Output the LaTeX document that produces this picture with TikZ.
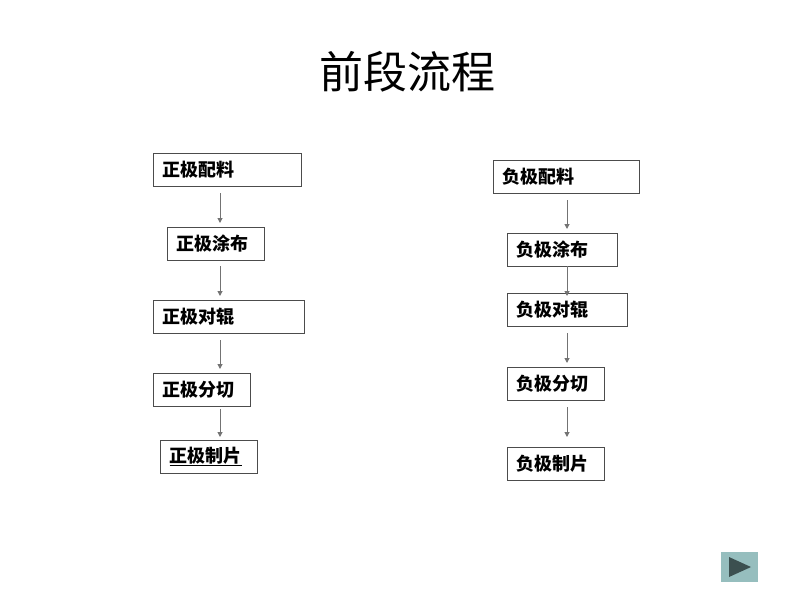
\documentclass[tikz,border=0pt]{standalone}
\usepackage{fontspec}
\setmainfont{Noto Sans CJK SC}
\usetikzlibrary{arrows.meta}
\begin{document}
\begin{tikzpicture}[x=1pt,y=-1pt,
  bx/.style={draw=black!70,line width=0.8pt,inner sep=0pt,anchor=north west},
  lb/.style={anchor=west,font=\fontsize{18}{20}\selectfont\bfseries},
  ar/.style={draw=black!55,line width=1pt,-{Triangle[length=5pt,width=5pt]}}]
\useasboundingbox (0,0) rectangle (800,600);
\node[font=\fontsize{44}{50}\selectfont] (t) at (407,72) {前段流程};
\newcommand\bxx[6]{\draw[draw=black!70,line width=0.8pt] (#2,#3) rectangle (#4,#5);
  \coordinate (#1t) at ({(#2+#4)/2},#3); \coordinate (#1b) at ({(#2+#4)/2},#5);
  \node[lb] (#1l) at (#2+6,{(#3+#5)/2}) {#6};}
\bxx{a}{153}{153}{301}{186}{正极配料}
\bxx{b}{167}{227}{264}{260}{正极涂布}
\bxx{c}{153}{300}{304}{333}{正极对辊}
\bxx{d}{153}{373}{250}{406}{正极分切}
\bxx{e}{160}{440}{257}{473}{\underline{正极制片}}
\coordinate (a1) at (220,193); \coordinate (a2) at (220,223);
\coordinate (b1) at (220,266); \coordinate (b2) at (220,296);
\coordinate (c1) at (220,340); \coordinate (c2) at (220,369);
\coordinate (d1) at (220,409); \coordinate (d2) at (220,437);
\draw[ar] (a1)--(a2); \draw[ar] (b1)--(b2); \draw[ar] (c1)--(c2); \draw[ar] (d1)--(d2);
\bxx{f}{493}{160}{639}{193}{负极配料}
\bxx{g}{507}{233}{617}{266}{负极涂布}
\bxx{h}{507}{293}{627}{326}{负极对辊}
\bxx{i}{507}{367}{604}{400}{负极分切}
\bxx{j}{507}{447}{604}{480}{负极制片}
\coordinate (f1) at (567,200); \coordinate (f2) at (567,229);
\coordinate (g1) at (567,266); \coordinate (g2) at (567,296);
\coordinate (h1) at (567,333); \coordinate (h2) at (567,363);
\coordinate (i1) at (567,407); \coordinate (i2) at (567,437);
\draw[ar] (f1)--(f2); \draw[ar] (g1)--(g2); \draw[ar] (h1)--(h2); \draw[ar] (i1)--(i2);
\fill[fill={rgb,255:red,150;green,190;blue,190}] (721,552) rectangle (758,582);
\fill[fill={rgb,255:red,60;green,80;blue,80}] (729,557) -- (729,577) -- (751,567) -- cycle;
\end{tikzpicture}
\end{document}
